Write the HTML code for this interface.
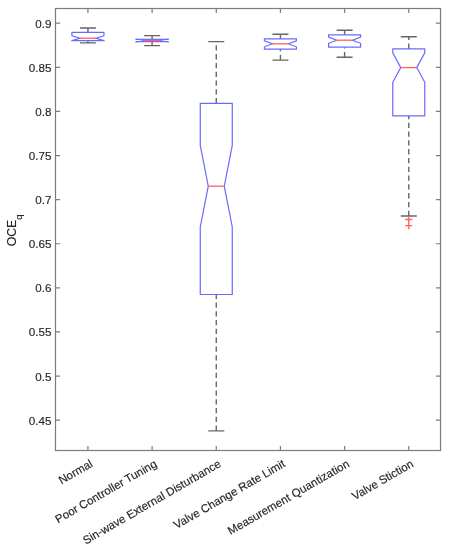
<!DOCTYPE html>
<html><head><meta charset="utf-8"><style>
html,body{margin:0;padding:0;background:#fff;width:451px;height:550px;overflow:hidden}
svg{display:block}
text{font-family:"Liberation Sans",Arial,sans-serif;fill:#262626;stroke:#262626;stroke-width:0.15px}
.t{font-size:11.65px}
.xt{font-size:11.5px}
.yl{font-size:12.2px}
.sub{font-size:9.5px}
</style></head><body>
<svg width="451" height="550" viewBox="0 0 451 550">
<rect x="55.5" y="8.5" width="385.0" height="442.0" fill="none" stroke="#7c7c7c" stroke-width="1.2"/>
<text x="51.5" y="27.65" text-anchor="end" class="t">0.9</text>
<text x="51.5" y="71.76" text-anchor="end" class="t">0.85</text>
<text x="51.5" y="115.87" text-anchor="end" class="t">0.8</text>
<text x="51.5" y="159.98" text-anchor="end" class="t">0.75</text>
<text x="51.5" y="204.09" text-anchor="end" class="t">0.7</text>
<text x="51.5" y="248.20" text-anchor="end" class="t">0.65</text>
<text x="51.5" y="292.31" text-anchor="end" class="t">0.6</text>
<text x="51.5" y="336.42" text-anchor="end" class="t">0.55</text>
<text x="51.5" y="380.53" text-anchor="end" class="t">0.5</text>
<text x="51.5" y="424.64" text-anchor="end" class="t">0.45</text>
<path d="M55.5,23.20h4.6M440.5,23.20h-4.6M55.5,67.31h4.6M440.5,67.31h-4.6M55.5,111.42h4.6M440.5,111.42h-4.6M55.5,155.53h4.6M440.5,155.53h-4.6M55.5,199.64h4.6M440.5,199.64h-4.6M55.5,243.75h4.6M440.5,243.75h-4.6M55.5,287.86h4.6M440.5,287.86h-4.6M55.5,331.97h4.6M440.5,331.97h-4.6M55.5,376.08h4.6M440.5,376.08h-4.6M55.5,420.19h4.6M440.5,420.19h-4.6M87.93,450.5v-4.6M87.93,8.5v4.6M152.10,450.5v-4.6M152.10,8.5v4.6M216.27,450.5v-4.6M216.27,8.5v4.6M280.43,450.5v-4.6M280.43,8.5v4.6M344.60,450.5v-4.6M344.60,8.5v4.6M408.77,450.5v-4.6M408.77,8.5v4.6" stroke="#7c7c7c" stroke-width="1.2" fill="none"/>
<path d="M87.93,32.4V28.0" stroke="#666666" stroke-width="1.4" stroke-dasharray="5.3 3.5" fill="none"/>
<path d="M87.93,42.9V40.55" stroke="#666666" stroke-width="1.4" stroke-dasharray="5.3 3.5" fill="none"/>
<path d="M79.93,28.0H95.93M79.93,42.9H95.93" stroke="#666666" stroke-width="1.4" fill="none"/>
<path d="M71.93,40.55 L71.93,40.60 L79.93,38.20 L71.93,35.80 L71.93,32.40 L103.93,32.40 L103.93,35.80 L95.93,38.20 L103.93,40.60 L103.93,40.55Z" fill="none" stroke="#6a6aff" stroke-width="1.2" stroke-linejoin="miter"/>
<path d="M79.93,38.2H95.93" stroke="#ff6060" stroke-width="1.3"/>
<path d="M152.10,39.4V35.6" stroke="#666666" stroke-width="1.4" stroke-dasharray="5.3 3.5" fill="none"/>
<path d="M152.10,45.6V41.6" stroke="#666666" stroke-width="1.4" stroke-dasharray="5.3 3.5" fill="none"/>
<path d="M144.10,35.6H160.10M144.10,45.6H160.10" stroke="#666666" stroke-width="1.4" fill="none"/>
<path d="M136.10,41.60 L136.10,42.10 L144.10,40.50 L136.10,38.90 L136.10,39.40 L168.10,39.40 L168.10,38.90 L160.10,40.50 L168.10,42.10 L168.10,41.60Z" fill="none" stroke="#6a6aff" stroke-width="1.2" stroke-linejoin="miter"/>
<path d="M144.10,40.5H160.10" stroke="#ff6060" stroke-width="1.3"/>
<path d="M216.27,103.4V41.6" stroke="#666666" stroke-width="1.4" stroke-dasharray="5.3 3.5" fill="none"/>
<path d="M216.27,430.9V294.5" stroke="#666666" stroke-width="1.4" stroke-dasharray="5.3 3.5" fill="none"/>
<path d="M208.27,41.6H224.27M208.27,430.9H224.27" stroke="#666666" stroke-width="1.4" fill="none"/>
<path d="M200.27,294.50 L200.27,227.00 L208.27,186.20 L200.27,145.40 L200.27,103.40 L232.27,103.40 L232.27,145.40 L224.27,186.20 L232.27,227.00 L232.27,294.50Z" fill="none" stroke="#6a6aff" stroke-width="1.2" stroke-linejoin="miter"/>
<path d="M208.27,186.2H224.27" stroke="#ff6060" stroke-width="1.3"/>
<path d="M280.43,38.9V34.3" stroke="#666666" stroke-width="1.4" stroke-dasharray="5.3 3.5" fill="none"/>
<path d="M280.43,60.1V49.1" stroke="#666666" stroke-width="1.4" stroke-dasharray="5.3 3.5" fill="none"/>
<path d="M272.43,34.3H288.43M272.43,60.1H288.43" stroke="#666666" stroke-width="1.4" fill="none"/>
<path d="M264.43,49.10 L264.43,46.80 L272.43,43.80 L264.43,40.80 L264.43,38.90 L296.43,38.90 L296.43,40.80 L288.43,43.80 L296.43,46.80 L296.43,49.10Z" fill="none" stroke="#6a6aff" stroke-width="1.2" stroke-linejoin="miter"/>
<path d="M272.43,43.8H288.43" stroke="#ff6060" stroke-width="1.3"/>
<path d="M344.60,34.9V30.3" stroke="#666666" stroke-width="1.4" stroke-dasharray="5.3 3.5" fill="none"/>
<path d="M344.60,57.3V47.2" stroke="#666666" stroke-width="1.4" stroke-dasharray="5.3 3.5" fill="none"/>
<path d="M336.60,30.3H352.60M336.60,57.3H352.60" stroke="#666666" stroke-width="1.4" fill="none"/>
<path d="M328.60,47.20 L328.60,43.30 L336.60,40.20 L328.60,37.10 L328.60,34.90 L360.60,34.90 L360.60,37.10 L352.60,40.20 L360.60,43.30 L360.60,47.20Z" fill="none" stroke="#6a6aff" stroke-width="1.2" stroke-linejoin="miter"/>
<path d="M336.60,40.2H352.60" stroke="#ff6060" stroke-width="1.3"/>
<path d="M408.77,48.9V36.8" stroke="#666666" stroke-width="1.4" stroke-dasharray="5.3 3.5" fill="none"/>
<path d="M408.77,216.0V115.9" stroke="#666666" stroke-width="1.4" stroke-dasharray="5.3 3.5" fill="none"/>
<path d="M400.77,36.8H416.77M400.77,216.0H416.77" stroke="#666666" stroke-width="1.4" fill="none"/>
<path d="M392.77,115.90 L392.77,82.30 L400.77,67.60 L392.77,52.90 L392.77,48.90 L424.77,48.90 L424.77,52.90 L416.77,67.60 L424.77,82.30 L424.77,115.90Z" fill="none" stroke="#6a6aff" stroke-width="1.2" stroke-linejoin="miter"/>
<path d="M400.77,67.6H416.77" stroke="#ff6060" stroke-width="1.3"/>
<path d="M405.27,219.5h7M408.77,216.0v7" stroke="#ff6060" stroke-width="1.3" fill="none"/>
<path d="M405.27,225.7h7M408.77,222.2v7" stroke="#ff6060" stroke-width="1.3" fill="none"/>
<text x="93.53" y="466.0" text-anchor="end" class="xt" transform="rotate(-30.0 93.53 466.0)">Normal</text>
<text x="157.70" y="466.0" text-anchor="end" class="xt" transform="rotate(-30.0 157.70 466.0)">Poor Controller Tuning</text>
<text x="221.87" y="466.0" text-anchor="end" class="xt" transform="rotate(-30.0 221.87 466.0)">Sin-wave External Disturbance</text>
<text x="286.03" y="466.0" text-anchor="end" class="xt" transform="rotate(-30.0 286.03 466.0)">Valve Change Rate Limit</text>
<text x="350.20" y="466.0" text-anchor="end" class="xt" transform="rotate(-30.0 350.20 466.0)">Measurement Quantization</text>
<text x="414.37" y="466.0" text-anchor="end" class="xt" transform="rotate(-30.0 414.37 466.0)">Valve Stiction</text>
<text transform="translate(16.2,230.4) rotate(-90)" text-anchor="middle" class="yl">OCE<tspan class="sub" dy="6.2">q</tspan></text>
</svg>
</body></html>
